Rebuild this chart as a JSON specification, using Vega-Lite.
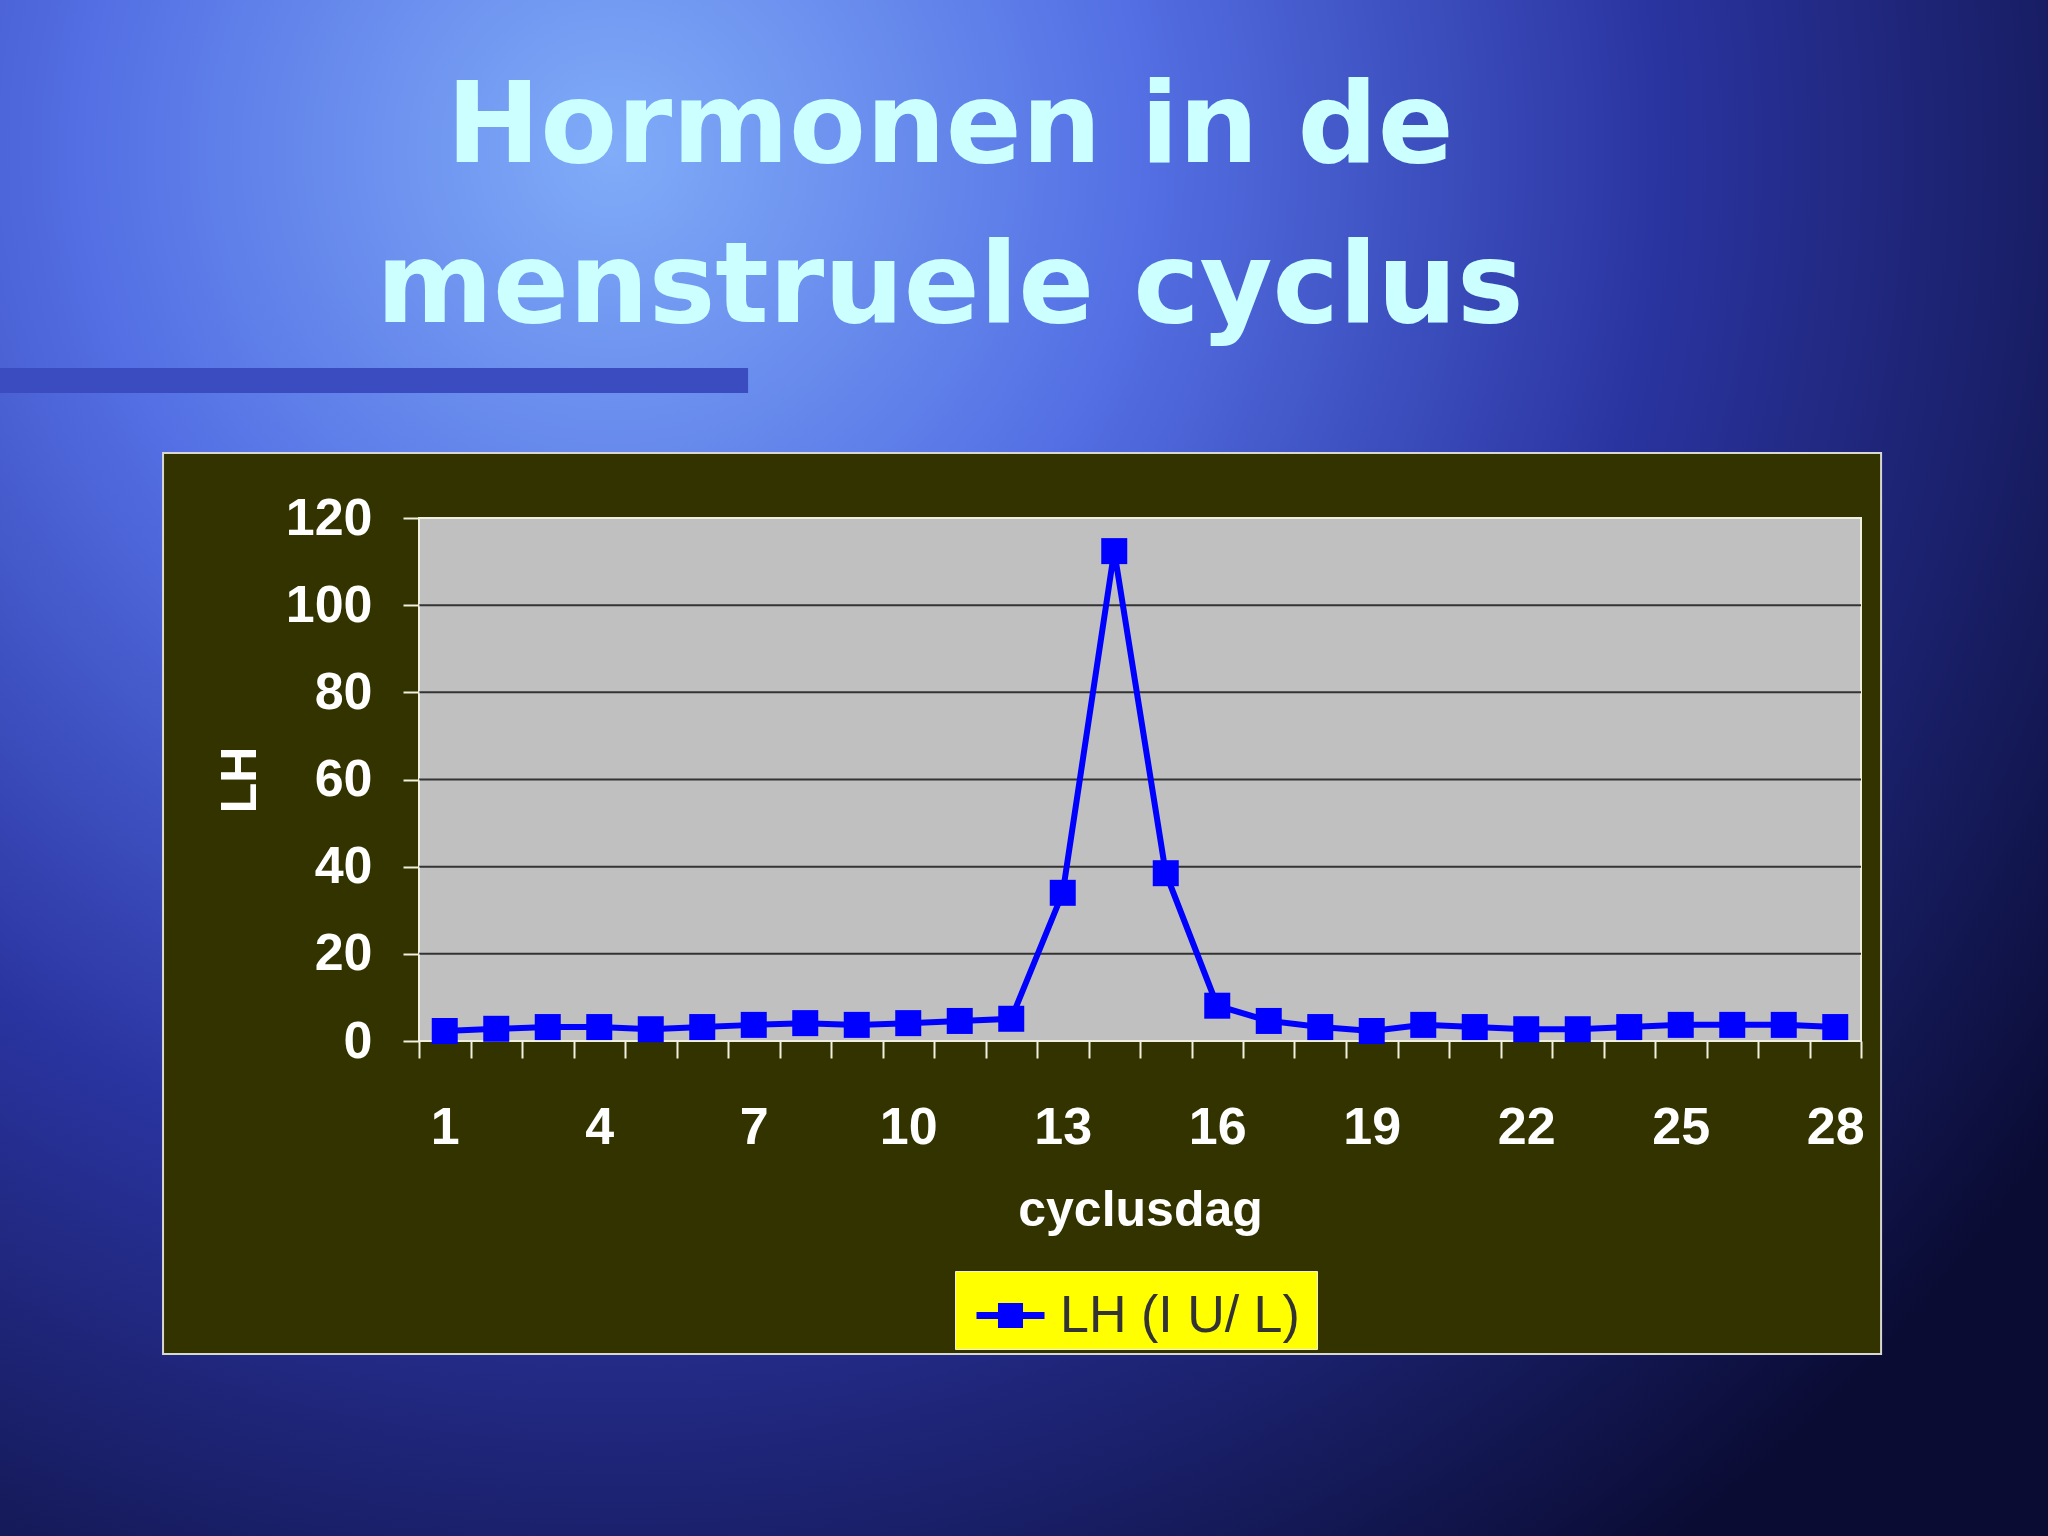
{
  "$schema": "https://vega.github.io/schema/vega-lite/v6.json",
  "autosize": "none",
  "width": 1442,
  "height": 523,
  "padding": {"left": 419, "top": 518, "right": 187, "bottom": 495},
  "background": "#2a3aa0",
  "config": {"view": {"stroke": null}},
  "title": {
    "text": ["Hormonen in de", "menstruele cyclus"],
    "font": "DejaVu Sans",
    "fontWeight": "bold",
    "fontSize": 112,
    "color": "#ccffff",
    "lineHeight": 160,
    "anchor": "middle",
    "frame": "group",
    "baseline": "top",
    "dx": -190,
    "offset": -347,
    "zindex": 2
  },
  "layer": [
    {
      "data": {"values": [{"part": "backdrop"}]},
      "mark": {
        "type": "rect",
        "fill": {
          "gradient": "radial",
          "x1": 0.3, "y1": 0.2, "r1": 0,
          "x2": 0.3, "y2": 0.2, "r2": 0.85,
          "stops": [
            {"offset": 0, "color": "#80acf8"},
            {"offset": 0.3, "color": "#5470e4"},
            {"offset": 0.6, "color": "#2a34a0"},
            {"offset": 1, "color": "#0a0c34"}
          ]
        }
      },
      "encoding": {
        "x": {"datum": -7.7, "type": "quantitative"},
        "x2": {"datum": 32.2},
        "y": {"datum": 239, "type": "quantitative"},
        "y2": {"datum": -114}
      }
    },
    {
      "data": {"values": [{"part": "panel"}]},
      "mark": {"type": "rect", "fill": "#333300", "stroke": "#d8d8d0", "strokeWidth": 2},
      "encoding": {
        "x": {"datum": -4.47, "type": "quantitative"},
        "x2": {"datum": 28.89},
        "y": {"datum": 134.9, "type": "quantitative"},
        "y2": {"datum": -71.8}
      }
    },
    {
      "data": {"values": [{"part": "bar"}]},
      "mark": {"type": "rect", "fill": "#3a4cc0"},
      "encoding": {
        "x": {"datum": -7.7, "type": "quantitative"},
        "x2": {"datum": 6.89},
        "y": {"datum": 154.4, "type": "quantitative"},
        "y2": {"datum": 148.7}
      }
    },
    {
      "data": {"values": [{"part": "plot"}]},
      "mark": {"type": "rect", "fill": "#c0c0c0", "stroke": "#f0f0e0", "strokeWidth": 2},
      "encoding": {
        "x": {"datum": 0.5, "type": "quantitative"},
        "x2": {"datum": 28.5},
        "y": {"datum": 0, "type": "quantitative"},
        "y2": {"datum": 120}
      }
    },
    {
      "data": {"values": [{"g": 20}, {"g": 40}, {"g": 60}, {"g": 80}, {"g": 100}]},
      "mark": {"type": "rule", "color": "#333333", "strokeWidth": 2},
      "encoding": {
        "x": {"datum": 0.5, "type": "quantitative"},
        "x2": {"datum": 28.5},
        "y": {"field": "g", "type": "quantitative"}
      }
    },
    {
      "data": {
        "values": [
          {"day": 1, "lh": 2.3, "series": "LH (I U/ L)"},
          {"day": 2, "lh": 2.8, "series": "LH (I U/ L)"},
          {"day": 3, "lh": 3.2, "series": "LH (I U/ L)"},
          {"day": 4, "lh": 3.2, "series": "LH (I U/ L)"},
          {"day": 5, "lh": 2.7, "series": "LH (I U/ L)"},
          {"day": 6, "lh": 3.2, "series": "LH (I U/ L)"},
          {"day": 7, "lh": 3.7, "series": "LH (I U/ L)"},
          {"day": 8, "lh": 4.1, "series": "LH (I U/ L)"},
          {"day": 9, "lh": 3.7, "series": "LH (I U/ L)"},
          {"day": 10, "lh": 4.1, "series": "LH (I U/ L)"},
          {"day": 11, "lh": 4.6, "series": "LH (I U/ L)"},
          {"day": 12, "lh": 5.1, "series": "LH (I U/ L)"},
          {"day": 13, "lh": 34, "series": "LH (I U/ L)"},
          {"day": 14, "lh": 112.4, "series": "LH (I U/ L)"},
          {"day": 15, "lh": 38.5, "series": "LH (I U/ L)"},
          {"day": 16, "lh": 8.1, "series": "LH (I U/ L)"},
          {"day": 17, "lh": 4.6, "series": "LH (I U/ L)"},
          {"day": 18, "lh": 3.2, "series": "LH (I U/ L)"},
          {"day": 19, "lh": 2.3, "series": "LH (I U/ L)"},
          {"day": 20, "lh": 3.7, "series": "LH (I U/ L)"},
          {"day": 21, "lh": 3.2, "series": "LH (I U/ L)"},
          {"day": 22, "lh": 2.7, "series": "LH (I U/ L)"},
          {"day": 23, "lh": 2.7, "series": "LH (I U/ L)"},
          {"day": 24, "lh": 3.2, "series": "LH (I U/ L)"},
          {"day": 25, "lh": 3.7, "series": "LH (I U/ L)"},
          {"day": 26, "lh": 3.7, "series": "LH (I U/ L)"},
          {"day": 27, "lh": 3.7, "series": "LH (I U/ L)"},
          {"day": 28, "lh": 3.2, "series": "LH (I U/ L)"}
        ]
      },
      "mark": {
        "type": "line",
        "strokeWidth": 6,
        "point": {"shape": "square", "size": 676, "filled": true}
      },
      "encoding": {
        "x": {
          "field": "day",
          "type": "quantitative",
          "scale": {"domain": [0.5, 28.5], "nice": false, "zero": false},
          "axis": {
            "title": "cyclusdag",
            "values": [0.5, 1.5, 2.5, 3.5, 4.5, 5.5, 6.5, 7.5, 8.5, 9.5, 10.5, 11.5, 12.5, 13.5, 14.5, 15.5, 16.5, 17.5, 18.5, 19.5, 20.5, 21.5, 22.5, 23.5, 24.5, 25.5, 26.5, 27.5, 28.5],
            "labelExpr": "(datum.value + 0.5) % 3 == 1 && datum.value < 28 ? format(datum.value + 0.5, 'd') : ''",
            "labelOffset": 25.75,
            "labelFlush": false,
            "labelOverlap": false,
            "domain": false,
            "grid": false,
            "tickSize": 17,
            "tickWidth": 2,
            "tickColor": "#f0f0e0",
            "labelFont": "Liberation Sans",
            "labelFontSize": 52,
            "labelFontWeight": "bold",
            "labelColor": "#ffffff",
            "labelPadding": 44,
            "titleFont": "Liberation Sans",
            "titleFontSize": 50,
            "titleFontWeight": "bold",
            "titleColor": "#ffffff",
            "titlePadding": 32,
            "zindex": 1
          }
        },
        "y": {
          "field": "lh",
          "type": "quantitative",
          "scale": {"domain": [0, 120], "nice": false},
          "axis": {
            "title": "LH",
            "values": [0, 20, 40, 60, 80, 100, 120],
            "domain": false,
            "grid": false,
            "tickSize": 16,
            "tickWidth": 2,
            "tickColor": "#f0f0e0",
            "labelFont": "Liberation Sans",
            "labelFontSize": 52,
            "labelFontWeight": "bold",
            "labelColor": "#ffffff",
            "labelPadding": 31,
            "titleFont": "Liberation Sans",
            "titleFontSize": 50,
            "titleFontWeight": "bold",
            "titleColor": "#ffffff",
            "titlePadding": 20,
            "zindex": 1
          }
        },
        "color": {
          "field": "series",
          "type": "nominal",
          "scale": {"range": ["#0000ff"]},
          "legend": {
            "orient": "none",
            "legendX": 536,
            "legendY": 753,
            "title": "\u00a0",
            "titleOrient": "right",
            "titlePadding": 10,
            "titleFontSize": 30,
            "fillColor": "#ffff00",
            "strokeColor": "#f0f0d8",
            "padding": 7,
            "symbolType": "M-1,0H1M-0.265,-0.265H0.265V0.265H-0.265Z",
            "symbolSize": 4624,
            "symbolStrokeWidth": 7,
            "symbolFillColor": "#0000ff",
            "symbolStrokeColor": "#0000ff",
            "symbolOffset": 11,
            "labelOffset": 12,
            "labelLimit": 600,
            "labelFont": "Liberation Sans",
            "labelFontSize": 52,
            "labelColor": "#333333",
            "zindex": 1,
            "encode": {
              "symbols": {
                "update": {
                  "fill": {"value": "#0000ff"},
                  "stroke": {"value": "#0000ff"},
                  "strokeWidth": {"value": 7}
                }
              }
            }
          }
        }
      }
    }
  ]
}
